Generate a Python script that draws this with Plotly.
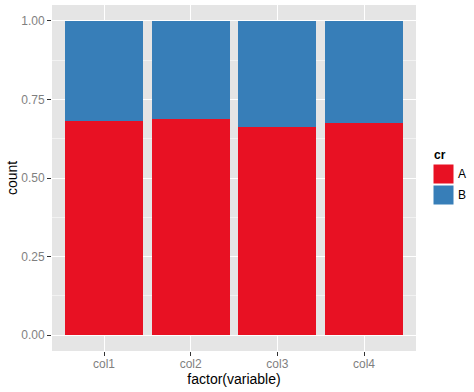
import plotly.graph_objects as go

categories = ["col1", "col2", "col3", "col4"]
share_a = [0.681, 0.686, 0.662, 0.675]
share_b = [1 - v for v in share_a]
series_names = ["A", "B"]
series_colors = ["#E81123", "#377EB8"]
y_ticks = [0.0, 0.25, 0.5, 0.75, 1.0]
y_tick_labels = ["0.00", "0.25", "0.50", "0.75", "1.00"]

FONT = "Liberation Sans, Arial, sans-serif"
W, H = 474, 392
ML, MR, MT, MB = 52, 58, 5, 41
PW, PH = W - ML - MR, H - MT - MB

def px_x(px):
    return (px - ML) / PW

def px_y(py):
    return (H - MB - py) / PH

fig = go.Figure()
for name, vals, col in zip(series_names, [share_a, share_b], series_colors):
    fig.add_trace(go.Bar(x=categories, y=vals, name=name, marker=dict(color=col, line=dict(width=0)),
                         width=0.9, showlegend=False))

fig.update_layout(
    barmode="stack",
    width=W, height=H,
    margin=dict(l=ML, r=MR, t=MT, b=MB),
    paper_bgcolor="white",
    plot_bgcolor="#E5E5E5",
    font=dict(family=FONT, size=12, color="#7F7F7F"),
    xaxis=dict(
        range=[-0.6, 3.6], showgrid=True, gridcolor="white", gridwidth=1.2,
        ticks="outside", ticklen=4, tickcolor="#333333", tickwidth=1,
        tickfont=dict(size=12, color="#7F7F7F"), ticklabelstandoff=-2,
        title=dict(text="factor(variable)", font=dict(size=14, color="black"), standoff=0),
        zeroline=False, showline=False, automargin=False,
    ),
    yaxis=dict(
        range=[-0.05, 1.05], tickvals=y_ticks, ticktext=y_tick_labels,
        showgrid=True, gridcolor="white", gridwidth=1.2,
        minor=dict(tickvals=[0.125, 0.375, 0.625, 0.875], showgrid=True, gridcolor="#F2F2F2", gridwidth=1, ticks=""),
        ticks="outside", ticklen=4, tickcolor="#333333", tickwidth=1,
        tickfont=dict(size=12, color="#7F7F7F"),
        title=dict(text="count", font=dict(size=14, color="black"), standoff=0),
        zeroline=False, showline=False, automargin=False,
    ),
)

# Legend drawn manually (ggplot-style square keys)
kx0, kx1 = 433, 454
fig.add_annotation(x=px_x(432), y=px_y(155), xref="paper", yref="paper", text="<b>cr</b>", showarrow=False,
                   xanchor="left", yanchor="middle", font=dict(size=12, color="black", family=FONT))
for i, (name, col) in enumerate(zip(series_names, series_colors)):
    top = 164 + i * 21
    fig.add_shape(type="rect", xref="paper", yref="paper", x0=px_x(kx0), x1=px_x(kx1),
                  y0=px_y(top + 20), y1=px_y(top), fillcolor=col, line=dict(width=1, color="white"))
    fig.add_annotation(x=px_x(456), y=px_y(top + 10), xref="paper", yref="paper", text=name,
                       showarrow=False, xanchor="left", yanchor="middle",
                       font=dict(size=12, color="black", family=FONT))

fig.write_html("out.html", config={"displayModeBar": False},
               post_script="document.body.style.margin='0px';document.body.style.overflow='hidden';")
